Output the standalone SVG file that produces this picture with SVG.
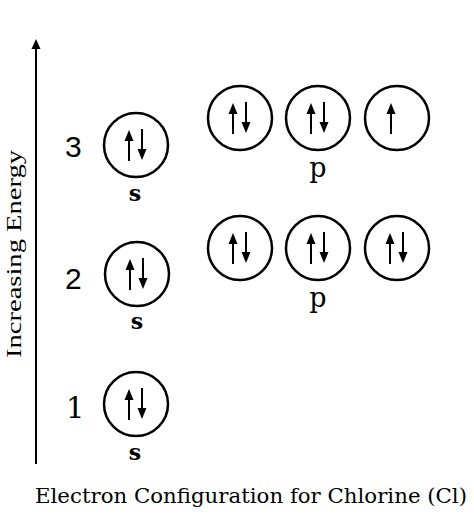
<svg xmlns="http://www.w3.org/2000/svg" xmlns:xlink="http://www.w3.org/1999/xlink" width="474" height="521" viewBox="0 0 474 521">
<style>
.orb{fill:#fff;stroke:#000;stroke-width:2.5}
.stem{stroke:#000;stroke-width:2}
.head{fill:#000}
.num{font-family:"Liberation Sans",Arial,sans-serif;font-size:30px;fill:#000}
.num1{font-family:"DejaVu Serif",serif;font-size:29px;fill:#000}
.sub{font-family:"DejaVu Serif",serif;font-weight:bold;font-size:22px;fill:#000;text-anchor:middle}
.subp{font-family:"DejaVu Serif",serif;font-size:27px;fill:#000;text-anchor:middle}
.title{font-family:"DejaVu Serif",serif;font-size:20px;fill:#000}
.axis{font-family:"Liberation Serif","Times New Roman",serif;font-size:22px;fill:#000}
</style>
<defs>
<g id="up"><line class="stem" x1="0" y1="-6" x2="0" y2="16"/><polygon class="head" points="0,-15 -4.5,-4 4.5,-4"/></g>
<g id="down"><line class="stem" x1="0" y1="-16" x2="0" y2="6"/><polygon class="head" points="0,15 -4.5,4 4.5,4"/></g>
<g id="pair"><circle class="orb" cx="0" cy="0" r="32"/><use xlink:href="#up" x="-7"/><use xlink:href="#down" x="6"/></g>
<g id="single"><circle class="orb" cx="0" cy="0" r="32"/><use xlink:href="#up" x="-6"/></g>
</defs>
<rect width="474" height="521" fill="#fff"/>
<g id="connectors">
<line x1="36" y1="46" x2="36" y2="464" stroke="#000" stroke-width="2"/>
<polygon points="36,39 31.5,49 40.5,49" fill="#000"/>
</g>
<g id="axis-label"><text class="axis" transform="translate(21,358) rotate(-90)" textLength="208" lengthAdjust="spacingAndGlyphs">Increasing Energy</text></g>
<g id="level3">
<text class="num" x="65" y="157">3</text>
<g id="orb-3s"><use xlink:href="#pair" x="136" y="145"/><text class="sub" x="135" y="201">s</text></g>
<g id="orb-3p"><use xlink:href="#pair" x="240" y="118"/><use xlink:href="#pair" x="318" y="118"/><use xlink:href="#single" x="397" y="118"/><text class="subp" x="318" y="177">p</text></g>
</g>
<g id="level2">
<text class="num" x="65" y="289">2</text>
<g id="orb-2s"><use xlink:href="#pair" x="137" y="274"/><text class="sub" x="137" y="329">s</text></g>
<g id="orb-2p"><use xlink:href="#pair" x="240" y="248"/><use xlink:href="#pair" x="318" y="248"/><use xlink:href="#pair" x="397" y="248"/><text class="subp" x="318" y="307">p</text></g>
</g>
<g id="level1">
<text class="num1" x="66" y="418">1</text>
<g id="orb-1s"><use xlink:href="#pair" x="136" y="404"/><text class="sub" x="135" y="460">s</text></g>
</g>
<g id="title"><text class="title" x="35" y="503" textLength="432" lengthAdjust="spacingAndGlyphs">Electron Configuration for Chlorine (Cl)</text></g>
</svg>
